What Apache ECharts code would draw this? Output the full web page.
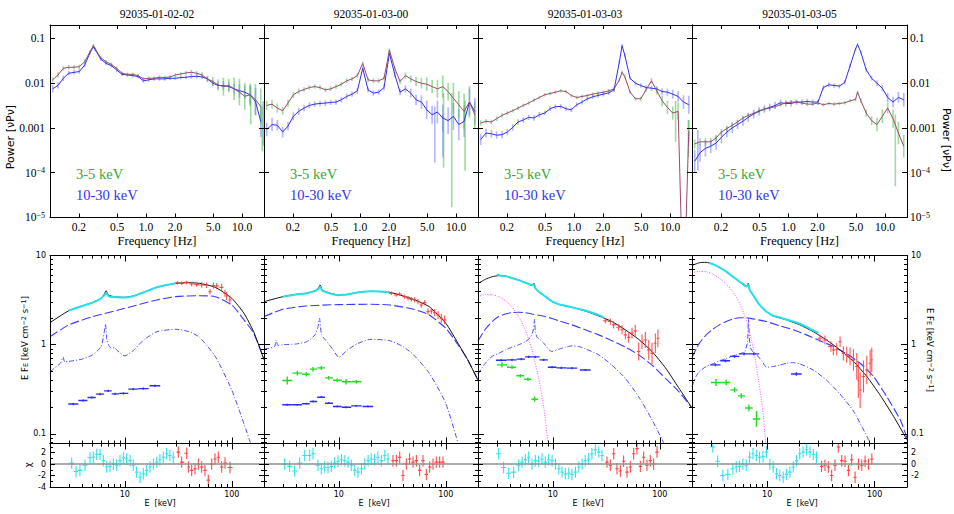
<!DOCTYPE html>
<html><head><meta charset="utf-8"><title>Power spectra and energy spectra</title>
<script src="https://cdn.jsdelivr.net/npm/echarts@6/dist/echarts.min.js"></script>
<style>html,body{margin:0;padding:0;background:#fff;}#chart{width:954px;height:514px;}</style>
</head><body><div id="chart"></div>
<script>
// ---------------- tick labels / categories ----------------
const obsIds = ['92035-01-02-02','92035-01-03-00','92035-01-03-03','92035-01-03-05'];
const freqTicks = [0.2,0.5,1,2,5,10];
const powerTicks = [1e-5,1e-4,1e-3,1e-2,1e-1];
const energyMajor = [10,100];
const energyMinor = [2,3,4,5,6,7,8,9,20,30,40,50,60,70,80,90,200];
const fluxMajor = [0.1,1,10];
const fluxMinor = [0.08,0.09,0.2,0.3,0.4,0.5,0.6,0.7,0.8,0.9,2,3,4,5,6,7,8,9];
const chiLeft = [-4,-2,0,2];
const chiRight = [-2,0,2];
const chiMinor = [-3,-1,1,3];

// ---------------- power spectra (top row) ----------------
const freqP1 = [0.1066,0.1212,0.1377,0.1564,0.1778,0.2020,0.2297,0.2610,0.283,0.2966,0.3371,0.3831,0.4354,0.4948,0.5623,0.6390,0.7262,0.8254,0.9380,1.066,1.212,1.377,1.565,1.778,2.021,2.297,2.610,2.966,3.371,3.831,4.354,4.948,5.623,6.390,7.262,8.254,9.380,10.66,12.12,13.77,15.65];
const greenP1 = [0.0119,0.0153,0.0215,0.0227,0.0227,0.0234,0.0303,0.0506,0.0687,0.058,0.0372,0.0303,0.0264,0.0215,0.0167,0.0158,0.0158,0.0148,0.0125,0.0129,0.0129,0.0136,0.0134,0.0138,0.0153,0.0161,0.0170,0.0175,0.0167,0.0153,0.0125,0.0109,0.0092,0.0084,0.0089,0.0075,0.0063,0.0051,0.0055,0.0043,0.0030];
const blueP1 = [0.0075,0.0089,0.0129,0.0167,0.0175,0.0182,0.0255,0.048,0.0653,0.056,0.0347,0.0278,0.0247,0.0198,0.0158,0.0153,0.0148,0.0141,0.0113,0.0119,0.0125,0.0125,0.0125,0.0129,0.0129,0.0134,0.0136,0.0141,0.0143,0.0138,0.0125,0.010,0.0089,0.0089,0.0084,0.0075,0.0068,0.0063,0.0055,0.0039,0.0014];
const greenErrP1 = [.06,.06,.05,.05,.05,.05,.05,.04,.04,.04,.04,.04,.04,.04,.04,.04,.04,.04,.04,.04,.04,.04,.04,.04,.04,.04,.04,.05,.05,.06,.07,.1,.12,.2,.15,.25,.3,.3,.25,.35,.4];
const blueErrP1 = [.08,.07,.06,.05,.05,.05,.05,.04,.04,.04,.04,.04,.04,.04,.04,.04,.04,.04,.04,.04,.04,.04,.04,.04,.04,.04,.04,.05,.05,.05,.06,.07,.08,.1,.1,.12,.15,.15,.2,.3,.35];
const deepGreenP1 = [[12.3,0.0012,0.009],[16.2,0.0003,0.003]];
const deepBlueP1 = [[16.6,0.0004,0.004]];

const freqP2 = [0.1066,0.1212,0.1377,0.1564,0.1778,0.2020,0.2297,0.2610,0.2966,0.3371,0.3831,0.4354,0.4948,0.5623,0.6390,0.7262,0.8254,0.9380,1.066,1.212,1.377,1.565,1.778,2.021,2.297,2.610,2.966,3.371,3.831,4.354,4.948,5.623,6.390,7.262,8.254,9.380,10.66,12.12,13.77,15.65];
const greenP2 = [0.00319,0.00341,0.00278,0.00243,0.0036,0.00551,0.00653,0.00723,0.0080,0.0084,0.0080,0.00711,0.00748,0.0084,0.0095,0.0113,0.0125,0.0148,0.0278,0.0119,0.0113,0.0113,0.0129,0.055,0.0215,0.0109,0.0148,0.0125,0.0109,0.010,0.0095,0.0084,0.0075,0.0084,0.0065,0.0046,0.0033,0.00235,0.0038,0.00198];
const blueP2 = [0.00092,0.00119,0.00115,0.00081,0.0011,0.00182,0.00235,0.00278,0.00319,0.00341,0.00353,0.0036,0.00372,0.00379,0.00427,0.00506,0.0057,0.00676,0.0215,0.00711,0.006,0.00631,0.0080,0.0464,0.0158,0.00631,0.00748,0.006,0.00427,0.00379,0.00255,0.00198,0.00227,0.00167,0.00146,0.00182,0.00119,0.00141,0.00379,0.00235];
const greenErrP2 = [.1,.1,.1,.09,.08,.07,.06,.05,.05,.05,.05,.05,.05,.05,.05,.05,.05,.05,.04,.05,.05,.05,.05,.04,.05,.06,.07,.08,.1,.12,.15,.15,.2,.25,.2,.35,.3,.4,.35,.3];
const blueErrP2 = [.15,.15,.12,.12,.1,.09,.08,.07,.07,.06,.06,.06,.06,.06,.06,.06,.06,.06,.05,.06,.06,.06,.06,.04,.06,.07,.08,.1,.12,.15,.2,.2,.25,.3,.3,.3,.35,.35,.3,.3];
const deepGreenP2 = [[7.4,1.3e-4,0.006],[9.0,1.7e-5,0.006],[12.4,1.1e-4,0.004]];
const deepBlueP2 = [[6.0,1.7e-4,0.003],[7.3,2.2e-4,0.002]];

const freqP3 = [0.1066,0.1212,0.1377,0.1564,0.1778,0.2020,0.2297,0.2610,0.2966,0.3371,0.3831,0.4354,0.4948,0.5623,0.6390,0.7262,0.8254,0.9380,1.066,1.212,1.377,1.565,1.778,2.021,2.297,2.610,2.966,3.16,3.371,3.831,4.354,4.948,5.623,6.390,7.262,8.254,9.380,10.66,12.12,13.77,15.65];
const greenP3 = [0.00129,0.00141,0.00136,0.00161,0.00191,0.00215,0.00243,0.00278,0.00319,0.0036,0.00419,0.0048,0.00551,0.00589,0.00631,0.00676,0.00653,0.00532,0.0048,0.00506,0.00532,0.0057,0.006,0.00631,0.00676,0.00748,0.0119,0.0175,0.0141,0.00631,0.00449,0.00449,0.00711,0.0113,0.00676,0.00405,0.00288,0.00215,0.00235,1e-7,0.00084];
const blueP3 = [0.00055,0.00077,0.00074,0.00069,0.00071,0.00081,0.00103,0.00136,0.00151,0.00173,0.00167,0.00198,0.00215,0.00269,0.00298,0.00303,0.00269,0.00255,0.0033,0.00379,0.00449,0.00497,0.00532,0.0057,0.0061,0.00711,0.0303,0.0687,0.0426,0.0129,0.010,0.0089,0.0080,0.00774,0.00748,0.00653,0.00631,0.0057,0.00506,0.00379,0.0033];
const greenErrP3 = [.06,.05,.05,.05,.05,.04,.04,.04,.04,.04,.04,.04,.04,.04,.04,.04,.04,.04,.04,.04,.04,.04,.04,.04,.04,.04,.04,.04,.04,.04,.04,.05,.05,.06,.08,.12,.15,.15,.2,0,.25];
const blueErrP3 = [.12,.1,.08,.08,.08,.07,.07,.06,.06,.06,.06,.06,.05,.05,.05,.05,.05,.05,.05,.05,.05,.05,.05,.05,.05,.05,.04,.04,.04,.04,.05,.05,.05,.06,.06,.07,.08,.1,.12,.15,.2];
const deepGreenP3 = [[11.4,4.9e-4,0.004],[15.5,2.2e-4,0.0015]];
const deepBlueP3 = [];

const freqP4 = [0.1066,0.1212,0.1377,0.1564,0.1778,0.2020,0.2297,0.2610,0.2966,0.3371,0.3831,0.4354,0.4948,0.5623,0.6390,0.7262,0.8254,0.9380,1.066,1.212,1.377,1.565,1.778,2.021,2.297,2.610,2.966,3.371,3.831,4.354,4.948,5.19,5.623,6.390,7.262,8.254,9.380,10.66,12.12,13.77,15.65];
const greenP4 = [0.00044,0.00049,0.00049,0.00049,0.0006,0.00081,0.00097,0.00115,0.00136,0.00167,0.00191,0.00212,0.00243,0.00264,0.00278,0.00298,0.0033,0.00366,0.00379,0.00379,0.0036,0.00341,0.00341,0.0036,0.0033,0.00353,0.00341,0.00353,0.00366,0.00405,0.00434,0.00631,0.00405,0.00215,0.00146,0.00119,0.00182,0.00278,0.00161,0.00077,0.00039];
const blueP4 = [0.00018,0.00028,0.00035,0.00039,0.00046,0.00062,0.00081,0.001,0.00119,0.00141,0.00173,0.00205,0.00235,0.00264,0.00288,0.00319,0.00366,0.00353,0.00353,0.00379,0.00379,0.00392,0.00379,0.00379,0.0080,0.0092,0.0089,0.0086,0.0105,0.0247,0.058,0.0736,0.0489,0.0198,0.0129,0.010,0.00774,0.0048,0.00379,0.0048,0.00427];
const greenErrP4 = [.1,.08,.08,.08,.07,.07,.06,.06,.05,.05,.05,.05,.05,.05,.05,.04,.04,.04,.04,.04,.04,.04,.04,.04,.04,.04,.04,.04,.04,.04,.04,.04,.05,.08,.1,.15,.15,.12,.2,.25,.25];
const blueErrP4 = [.25,.2,.18,.15,.15,.14,.12,.12,.1,.1,.1,.1,.09,.08,.08,.08,.07,.07,.07,.06,.06,.06,.06,.06,.05,.05,.05,.05,.05,.04,.03,.03,.03,.04,.05,.06,.07,.1,.12,.12,.15];
const deepGreenP4 = [[12.8,5e-5,0.002]];
const deepBlueP4 = [[0.115,1.1e-4,0.0009]];

// ---------------- energy spectra (bottom row) [E keV, E F_E] ----------------
const totalB1 = [[2,1.77],[3,2.41],[4,2.72],[5,2.97],[6,3.32],[6.4,3.67],[6.7,4.03],[7,3.61],[8,3.46],[10,3.40],[12,3.52],[15,3.87],[20,4.41],[30,4.88],[40,4.96],[50,4.88],[70,4.41],[100,3.32],[130,2.25],[160,1.40],[200,0.68]];
const compB1 = [[2,1.23],[3,1.67],[5,2.06],[10,2.56],[20,3.18],[30,3.46],[50,3.55],[70,3.46],[100,2.79],[130,1.90],[160,1.35],[200,0.69]];
const reflB1 = [[2,0.50],[2.5,0.62],[2.65,0.73],[2.75,0.64],[3,0.65],[4,0.69],[5,0.77],[6,0.95],[6.4,1.34],[6.6,1.71],[6.8,1.13],[7.2,0.95],[7.6,0.91],[8,0.93],[8.5,0.86],[10,0.75],[12,0.86],[15,1.13],[20,1.40],[30,1.49],[40,1.40],[50,1.21],[70,0.74],[100,0.31],[130,0.13],[150,0.078]];
const cyanB1 = [[3,2.41],[3.5,2.58],[4,2.72],[4.5,2.84],[5,2.97],[5.5,3.12],[6,3.3],[6.4,3.55],[6.7,3.8],[7,3.55],[7.5,3.42],[8,3.42],[9,3.38],[10,3.38],[12,3.5],[14,3.75],[17,4.1],[20,4.41],[25,4.7],[30,4.9]];
const redB1 = [[31,4.96,.02],[34,4.88,.02],[37.8,5.0,.02],[42.2,4.8,.025],[47,4.72,.025],[52.3,4.68,.03],[58.2,4.65,.03],[62.5,3.93,.03],[67.3,4.6,.035],[72.3,4.55,.035],[80.4,4.4,.04],[86.3,3.78,.04],[89.5,3.52,.045],[96,3.18,.05]];
const blueXB1 = [[3.3,0.216,.012],[4.1,0.237,.012],[4.9,0.256,.012],[5.86,0.279,.012],[7.0,0.304,.012],[8.1,0.281,.012],[9.7,0.285,.012],[12.0,0.318,.012],[14.9,0.322,.012],[19.1,0.346,.012]];

const totalB2 = [[2,3.04],[3,3.46],[4,3.67],[5,3.77],[6,4.04],[6.4,4.29],[6.7,4.68],[7,4.11],[8,3.84],[10,3.61],[12,3.67],[15,3.87],[20,3.97],[30,3.87],[40,3.52],[50,3.23],[70,2.67],[100,1.74],[130,1.04],[160,0.68],[200,0.40]];
const compB2 = [[2,2.07],[3,2.5],[5,2.72],[10,2.82],[20,2.84],[30,2.79],[50,2.5],[70,2.16],[100,1.53],[130,1.0],[160,0.68],[200,0.40]];
const reflB2 = [[2,0.89],[2.5,0.95],[2.6,1.13],[2.7,0.98],[3,1.0],[4,1.02],[5,1.08],[6,1.29],[6.4,1.6],[6.6,1.98],[6.9,1.29],[7.5,1.13],[8,1.03],[9,0.85],[10,0.72],[12,0.87],[15,1.03],[20,1.15],[30,1.11],[40,0.95],[50,0.77],[70,0.48],[100,0.22],[130,0.079]];
const cyanB2 = [[3,3.46],[3.5,3.57],[4,3.67],[4.5,3.72],[5,3.77],[5.5,3.9],[6,4.0],[6.4,4.2],[6.7,4.45],[7,4.05],[7.5,3.9],[8,3.8],[9,3.65],[10,3.6],[11,3.63],[12,3.67],[14,3.8],[17,3.92],[20,3.97],[25,3.95],[30,3.87]];
const redB2 = [[31,3.78,.02],[34.5,3.61,.02],[37,3.71,.02],[41.3,3.46,.025],[44.4,3.32,.025],[47.7,3.23,.025],[51.2,3.18,.03],[55,3.04,.03],[59,2.79,.03],[63.5,2.97,.03],[68.2,2.35,.035],[73.3,2.39,.035],[78.8,2.29,.04],[84.6,2.16,.045],[90.9,1.98,.05],[97.6,1.90,.05]];
const blueXB2 = [[3.3,0.212,.012],[4.1,0.212,.01],[4.98,0.218,.01],[5.74,0.231,.01],[6.87,0.258,.01],[8.04,0.221,.01],[9.68,0.203,.01],[11.7,0.199,.01],[14.6,0.206,.01],[18.7,0.203,.01]];
const greenXB2 = [[3.3,0.397,.045],[4.1,0.48,.026],[4.98,0.467,.026],[5.74,0.532,.025],[6.87,0.55,.025],[8.04,0.425,.02],[9.68,0.40,.02],[11.7,0.384,.03],[14.6,0.384,.02]];

const totalB3 = [[2,4.85],[2.34,5.41],[2.71,5.79],[3.12,5.95],[3.6,5.90],[4.16,5.60],[4.8,5.32],[5.54,4.96],[6.39,4.64],[6.67,4.88],[6.87,4.29],[7.38,3.93],[8.51,3.46],[9.84,3.04],[11.35,2.84],[13.1,2.72],[15.1,2.63],[20.1,2.39],[26.9,2.10],[35.7,1.82],[47.6,1.47],[63.5,1.15],[84.6,0.84],[113,0.55],[150,0.33],[200,0.195]];
const diskB3 = [[2,3.44],[2.34,3.67],[2.71,3.64],[3.12,3.46],[3.6,3.12],[4.16,2.67],[4.8,2.07],[5.54,1.47],[6.39,0.875],[7.38,0.42],[8.22,0.203],[9.02,0.079]];
const compB3 = [[2,1.1],[2.34,1.49],[2.71,1.82],[3.12,2.07],[3.6,2.21],[4.16,2.29],[4.8,2.31],[5.54,2.29],[6.39,2.21],[8.51,2.07],[11.35,1.86],[15.1,1.67],[20.1,1.47],[26.9,1.29],[35.7,1.11],[47.6,0.94],[63.5,0.77],[84.6,0.59],[113,0.42],[150,0.30],[200,0.195]];
const reflB3 = [[2,0.47],[2.18,0.55],[2.34,0.62],[2.71,0.74],[3.12,0.80],[3.6,0.875],[4.16,0.94],[4.8,1.0],[5.54,1.08],[6.19,1.21],[6.57,1.47],[6.76,1.93],[6.87,1.40],[7.13,1.21],[7.66,1.13],[8.24,1.04],[9.21,0.875],[9.84,0.84],[11.35,0.89],[13.1,0.94],[15.1,0.97],[17.5,0.955],[20.1,0.90],[26.9,0.77],[35.7,0.59],[47.6,0.42],[63.5,0.26],[84.6,0.144],[109,0.079]];
const cyanB3 = [[3.0,6.15],[3.3,5.95],[3.6,5.88],[4.16,5.6],[4.8,5.3],[5.54,4.95],[6.0,4.8],[6.39,4.64],[6.67,4.75],[6.9,4.3],[7.38,3.95],[8.51,3.47],[9.84,3.06],[11.35,2.85],[13.1,2.74],[15.1,2.63],[17.5,2.52],[20.1,2.42],[23,2.3],[26.9,2.15],[30,2.02]];
const redB3 = [[31,1.86,.03],[34.5,1.82,.035],[37,1.67,.04],[41.3,1.57,.04],[44.4,1.47,.05],[47.7,1.29,.05],[51.2,1.21,.06],[55,1.35,.06],[59,1.43,.07],[63.5,0.84,.1],[68.2,1.08,.08],[73.3,1.13,.09],[78.8,0.875,.11],[84.6,0.80,.12],[90.9,1.04,.11],[96,1.18,.1]];
const blueXB3 = [[3.3,0.67,.012],[4.16,0.676,.012],[5.08,0.69,.012],[5.95,0.73,.012],[6.87,0.73,.012],[8.22,0.676,.012],[9.84,0.56,.012],[12.0,0.55,.012],[15.1,0.546,.012],[20.1,0.52,.012]];
const greenXB3 = [[3.35,0.594,.03],[4.16,0.56,.02],[4.98,0.448,.02],[5.86,0.41,.02],[6.77,0.245,.03]];

const totalB4 = [[2,7.75],[2.34,8.31],[2.71,8.39],[3.12,8.03],[3.6,7.38],[4.16,6.6],[4.8,5.8],[5.54,5.09],[6.39,4.48],[6.67,4.88],[6.87,4.11],[7.38,3.61],[8.51,2.79],[9.84,2.35],[11.35,2.10],[13.1,2.0],[15.1,1.90],[20.1,1.67],[26.9,1.40],[35.7,1.13],[47.6,0.875],[63.5,0.65],[84.6,0.44],[113,0.27],[150,0.157],[200,0.086]];
const diskB4 = [[2,6.4],[2.34,6.65],[2.71,6.6],[3.12,6.21],[3.6,5.55],[4.16,4.8],[4.8,3.93],[5.54,2.92],[6.39,1.90],[7.38,0.955],[8.22,0.44],[9.02,0.203],[9.68,0.079]];
const compB4 = [[2,0.72],[2.34,1.04],[2.71,1.29],[3.12,1.49],[3.6,1.67],[4.16,1.82],[4.8,1.95],[5.54,2.01],[6.39,2.01],[7.38,1.95],[9.84,1.82],[13.1,1.63],[17.5,1.47],[23.2,1.29],[31,1.11],[41.3,0.955],[55,0.79],[73.3,0.62],[97.6,0.44],[130,0.26],[173,0.144],[200,0.09]];
const reflB4 = [[2,0.34],[2.18,0.44],[2.34,0.50],[2.71,0.57],[3.12,0.61],[3.6,0.66],[4.16,0.70],[4.8,0.75],[5.54,0.79],[6.19,0.84],[6.57,1.08],[6.71,1.98],[6.85,1.13],[7.13,0.875],[8.0,0.77],[9.0,0.65],[9.84,0.56],[11.35,0.57],[13.1,0.59],[15.1,0.62],[17.5,0.63],[20.1,0.61],[26.9,0.52],[35.7,0.40],[47.6,0.28],[63.5,0.18],[84.6,0.094],[90,0.079]];
const cyanB4 = [[2.9,8.3],[3.12,8.0],[3.6,7.38],[4.16,6.6],[4.8,5.8],[5.54,5.09],[6.0,4.8],[6.39,4.5],[6.67,4.7],[6.9,4.1],[7.38,3.62],[8.51,2.8],[9.84,2.36],[11.35,2.12],[13.1,2.02],[15.1,1.92],[17.5,1.82],[20.1,1.72],[23,1.6],[26.9,1.45],[30,1.35]];
const redB4 = [[31,1.18,.04],[34.5,1.13,.05],[39.2,0.955,.06],[41.3,0.875,.06],[44.4,0.89,.07],[47.7,1.08,.06],[51.2,0.80,.08],[55,0.77,.09],[59,0.74,.1],[63.5,0.676,.12],[68.2,0.57,.15],[70.5,0.40,.2],[73.3,0.31,.2],[78.8,0.44,.18],[84.6,0.52,.16],[90.9,0.62,.15],[94,0.676,.14]];
const blueXB4 = [[3.3,0.594,.015],[4.1,0.66,.015],[4.98,0.74,.015],[6.1,0.79,.015],[7.5,0.79,.015],[18.7,0.47,.02]];
const greenXB4 = [[3.35,0.377,.04],[4.16,0.377,.03],[4.98,0.312,.03],[5.74,0.267,.03],[6.77,0.195,.04],[7.96,0.147,.09]];

// ---------------- residuals [E keV, chi] ----------------
const res1Cyan = [[3.19,0.17],[3.5,-1.3],[3.81,-1.1],[4.25,-0.2],[4.73,1.1],[5.08,1.2],[5.46,1.7],[5.87,1.7],[6.3,0.6],[6.77,-0.5],[7.28,-0.4],[7.82,0],[8.4,-0.2],[9.02,0.6],[9.69,1.1],[10.4,0.9],[11.2,0.6],[12.0,-0.2],[12.9,-1.4],[13.9,-2.3],[14.9,-1.7],[16.0,-1.1],[17.2,-0.5],[18.5,0],[19.9,0.35],[21.3,0.75],[22.9,1.2],[24.6,1.8],[26.4,1.5],[28.4,1.2]];
const res1Red = [[31.6,2.1],[34,0.35],[37.9,1.9],[39.3,-0.5],[42.2,-1.1],[45.3,-0.8],[48.7,0],[52.3,-0.5],[56.2,-1.1],[60.3,-2.8],[64.9,0],[69.7,0.9],[74.8,1.2],[80.4,-0.5],[86.4,0.2],[96.2,-0.6]];
const res2Cyan = [[3.12,0],[3.47,-0.4],[3.87,-1.2],[4.31,0.2],[4.8,1.5],[5.35,1.5],[5.74,1.8],[6.39,-0.2],[6.87,-0.8],[7.38,-0.5],[7.93,-0.6],[8.51,-0.4],[9.15,0.2],[9.84,0.5],[10.6,0.75],[11.4,0.6],[12.2,0.35],[13.1,-0.2],[14.1,-1.1],[15.1,-1.4],[16.3,-0.8],[17.5,0],[18.8,0.6],[20.1,0.9],[21.6,0.75],[23.2,1.2],[25,0.6],[26.9,1.5],[28.8,0.9]];
const res2Red = [[32.1,0.6],[34.5,0.6],[37.1,1.2],[39.8,-2.0],[42.8,0],[45.9,0.9],[49.4,0.35],[53.1,0.6],[57,-1.1],[61.2,0.6],[65.8,-1.8],[70.7,-0.5],[75.9,0],[81.5,0.35],[87.6,0.35],[94.2,0.35]];
const res3Cyan = [[3.12,1.8],[3.47,-0.6],[3.87,-1.6],[4.31,-1.4],[4.8,-0.2],[5.16,0.35],[5.54,0.75],[5.95,1.2],[6.39,0],[6.87,0.6],[7.38,0.5],[7.93,0.9],[8.51,0.35],[9.15,0.75],[9.84,0.6],[10.6,0],[11.4,-0.8],[12.2,-1.4],[13.1,-1.7],[14.1,-1.6],[15.1,-1.8],[16.3,-1.4],[17.5,-0.5],[18.8,0],[20.1,0.6],[21.6,0.9],[23.2,1.8],[25,2.5],[26.9,2.1],[28.8,1.5]];
const res3Red = [[32.1,0.35],[34.5,-0.2],[37.1,1.8],[39.8,-0.8],[42.8,-1.2],[45.9,0.5],[49.4,-1.4],[53.1,-0.5],[57,1.8],[61.2,2.7],[65.8,-0.4],[70.7,1.2],[75.9,-0.2],[81.5,0.6],[87.6,0],[94.2,2.1]];
const res4Cyan = [[3.12,3.0],[3.47,0.5],[3.87,-2.0],[4.31,-1.8],[4.8,-0.8],[5.16,-0.5],[5.54,-0.4],[5.95,0],[6.39,-0.2],[6.87,1.2],[7.38,1.8],[7.93,1.5],[8.51,1.2],[9.15,1.3],[9.84,2.1],[10.6,0],[11.4,-0.5],[12.2,-1.7],[13.1,-2.0],[14.1,-2.3],[15.1,-1.8],[16.3,-1.4],[17.5,-0.5],[18.8,0.6],[20.1,1.8],[21.6,2.1],[23.2,2.5],[25,2.1],[26.9,1.7],[28.8,1.2]];
const res4Red = [[32.1,-0.4],[34.5,-0.2],[37.1,-0.5],[39.8,-2.0],[42.8,-0.2],[45.9,3.0],[49.4,0.6],[53.1,0.5],[57,-1.1],[61.2,0.75],[65.8,-2.3],[70.7,0],[75.9,-0.2],[81.5,0.5],[87.6,0],[94.2,0.9]];

// ---------------- layout / style ----------------
const PANEL_L = [50, 264, 478, 692];
const PANEL_W = [214, 214, 214, 215];
const TOP_Y = 25, TOP_H = 192.5, MAIN_Y = 255.5, MAIN_H = 188, RES_Y = 443.5, RES_H = 43.5;
const F_MIN = 0.1, F_MAX = 16.9, P_MIN = 0.998e-5, P_MAX = 0.2;
const E_MIN = 2, E_MAX = 200, S_MIN = 0.078, S_MAX = 10.02, R_MIN = -4, R_MAX = 3.6;
const SERIF = 'Liberation Serif';
const SANS = 'DejaVu Sans';

const topSets = [
  {freq:freqP1, green:greenP1, blue:blueP1, gErr:greenErrP1, bErr:blueErrP1, gDeep:deepGreenP1, bDeep:deepBlueP1},
  {freq:freqP2, green:greenP2, blue:blueP2, gErr:greenErrP2, bErr:blueErrP2, gDeep:deepGreenP2, bDeep:deepBlueP2},
  {freq:freqP3, green:greenP3, blue:blueP3, gErr:greenErrP3, bErr:blueErrP3, gDeep:deepGreenP3, bDeep:deepBlueP3},
  {freq:freqP4, green:greenP4, blue:blueP4, gErr:greenErrP4, bErr:blueErrP4, gDeep:deepGreenP4, bDeep:deepBlueP4}
];
const bottomSets = [
  {total:totalB1, comp:compB1, refl:reflB1, disk:null, cyan:cyanB1, red:redB1, blueX:blueXB1, greenX:null, resCyan:res1Cyan, resRed:res1Red},
  {total:totalB2, comp:compB2, refl:reflB2, disk:null, cyan:cyanB2, red:redB2, blueX:blueXB2, greenX:greenXB2, resCyan:res2Cyan, resRed:res2Red},
  {total:totalB3, comp:compB3, refl:reflB3, disk:diskB3, cyan:cyanB3, red:redB3, blueX:blueXB3, greenX:greenXB3, resCyan:res3Cyan, resRed:res3Red},
  {total:totalB4, comp:compB4, refl:reflB4, disk:diskB4, cyan:cyanB4, red:redB4, blueX:blueXB4, greenX:greenXB4, resCyan:res4Cyan, resRed:res4Red}
];

const grids = [], xAxis = [], yAxis = [], series = [], graphic = [];
function addGrid(l, t, w, h){ grids.push({left:l, top:t, width:w, height:h, show:false}); return grids.length - 1; }
function tick(vals, len){ return {show:true, inside:true, length:len, customValues:vals, lineStyle:{color:'#000', width:1}}; }
function axisBase(type, g, min, max, pos, extra){
  const a = {type:type, gridIndex:g, min:min, max:max, position:pos, splitLine:{show:false},
    axisLine:{show:true, onZero:false, lineStyle:{color:'#000', width:1}}, axisTick:{show:false},
    axisLabel:{show:false}, axisPointer:{show:false}, silent:true, z:5};
  if (type === 'log') a.logBase = 10;
  return Object.assign(a, extra || {});
}
const noLine = {show:false, onZero:false};
function txt(x, y, text, size, family, color, align, rot, rich){
  const st = {text:text, fill:color, fontSize:size, fontFamily:family, align:align, verticalAlign:'middle', textAlign:align, textVerticalAlign:'middle'};
  if (rich) st.rich = rich;
  const el = {type:'text', x:x, y:y, silent:true, style:st};
  if (rot) el.rotation = rot;
  return el;
}

function powerLabel(m){
  return {show:true, customValues:powerTicks, margin:m, color:'#000', fontFamily:SERIF, fontSize:11.5,
    formatter:function(v){ const e = Math.round(Math.log10(v)); return e >= -3 ? Math.pow(10, e).toFixed(-e) : '10{sup|\u2212' + (-e) + '}'; },
    rich:{sup:{fontSize:8, fontFamily:SERIF, color:'#000', verticalAlign:'top', lineHeight:9}}};
}
function fluxLabel(m){
  return {show:true, customValues:fluxMajor, margin:m, color:'#000', fontFamily:SANS, fontSize:8,
    formatter:function(v){ return v >= 1 ? String(Math.round(v)) : '0.1'; }};
}
function chiLabel(vals, m){
  return {show:true, customValues:vals, margin:m, color:'#000', fontFamily:SANS, fontSize:8,
    formatter:function(v){ return String(Math.round(v)); }};
}

function vbar(color, w, op){
  return function(params, api){
    const a = api.coord([api.value(0), api.value(1)]), b = api.coord([api.value(0), api.value(2)]);
    return {type:'line', shape:{x1:a[0], y1:a[1], x2:b[0], y2:b[1]}, style:{stroke:color, lineWidth:w, opacity:op}};
  };
}
function cross(color, w, op){
  return function(params, api){
    const x = api.value(0), y = api.value(1);
    const h0 = api.coord([api.value(2), y]), h1 = api.coord([api.value(3), y]);
    const v0 = api.coord([x, api.value(4)]), v1 = api.coord([x, api.value(5)]);
    return {type:'group', children:[
      {type:'line', shape:{x1:h0[0], y1:h0[1], x2:h1[0], y2:h1[1]}, style:{stroke:color, lineWidth:w, opacity:op}},
      {type:'line', shape:{x1:v0[0], y1:v0[1], x2:v1[0], y2:v1[1]}, style:{stroke:color, lineWidth:w, opacity:op}}
    ]};
  };
}
function custom(xi, yi, data, render, z){
  return {type:'custom', xAxisIndex:xi, yAxisIndex:yi, data:data, renderItem:render, clip:true, silent:true, z:z || 2};
}
function curve(xi, yi, data, color, w, type, smooth, z){
  return {type:'line', xAxisIndex:xi, yAxisIndex:yi, data:data, symbol:'none', showSymbol:false, smooth:smooth,
    lineStyle:{color:color, width:w, type:type}, clip:true, silent:true, z:z || 3};
}
function errPoints(freq, vals, errs){
  const out = [];
  freq.forEach(function(f, j){ if (errs[j] > 0) out.push([f, vals[j] / Math.pow(10, errs[j]), vals[j] * Math.pow(10, errs[j])]); });
  return out;
}
function zip(a, b){ return a.map(function(v, j){ return [v, b[j]]; }); }
function bins(pts, maxDex){
  const cap = Math.pow(10, maxDex);
  return pts.map(function(p, j){
    const E = p[0], prev = j > 0 ? pts[j-1][0] : null, next = j < pts.length - 1 ? pts[j+1][0] : null;
    let lo = prev ? Math.sqrt(prev * E) : (next ? E * E / Math.sqrt(E * next) : E / cap);
    let hi = next ? Math.sqrt(next * E) : (prev ? E * E / Math.sqrt(E * prev) : E * cap);
    return [Math.max(lo, E / cap), Math.min(hi, E * cap)];
  });
}
function fluxCrosses(pts, maxDex){
  const b = bins(pts, maxDex);
  return pts.map(function(p, j){ const k = Math.pow(10, p[2]); return [p[0], p[1], b[j][0], b[j][1], p[1] / k, p[1] * k]; });
}
function chiCrosses(pts, maxDex){
  const b = bins(pts, maxDex);
  return pts.map(function(p, j){ return [p[0], p[1], b[j][0], b[j][1], p[1] - 1, p[1] + 1]; });
}

// ---------------- top row ----------------
topSets.forEach(function(d, i){
  const g = addGrid(PANEL_L[i], TOP_Y, PANEL_W[i], TOP_H);
  const xi = xAxis.length;
  xAxis.push(axisBase('log', g, F_MIN, F_MAX, 'bottom', {axisTick:tick(freqTicks, 4),
    axisLabel:{show:true, customValues:freqTicks, margin:3, color:'#000', fontFamily:SERIF, fontSize:11.5,
      formatter:function(v){ return Number(v).toFixed(1); }}}));
  xAxis.push(axisBase('log', g, F_MIN, F_MAX, 'top', {axisTick:tick(freqTicks, 4)}));
  const yi = yAxis.length;
  yAxis.push(axisBase('log', g, P_MIN, P_MAX, 'left', {axisTick:tick(powerTicks, 5), axisLabel: i === 0 ? powerLabel(5) : {show:false}}));
  yAxis.push(axisBase('log', g, P_MIN, P_MAX, 'right', {axisTick:tick(powerTicks, 5), axisLabel: i === 3 ? powerLabel(3) : {show:false}}));
  series.push(custom(xi, yi, errPoints(d.freq, d.blue, d.bErr).concat(d.bDeep), vbar('#6a6aff', 1.6, 0.5), 2));
  series.push(custom(xi, yi, errPoints(d.freq, d.green, d.gErr).concat(d.gDeep), vbar('#4fbf4f', 1.6, 0.55), 2));
  series.push(curve(xi, yi, zip(d.freq, d.blue), '#2f2fee', 1, 'solid', false, 3));
  series.push(curve(xi, yi, zip(d.freq, d.green), '#a0466e', 1, 'solid', false, 3));

  const cx = PANEL_L[i] + PANEL_W[i] / 2;
  graphic.push(txt(cx, 14, obsIds[i], 11.5, SERIF, '#000', 'center'));
  graphic.push(txt(cx, 240.5, 'Frequency [Hz]', 12.5, SERIF, '#000', 'center'));
  graphic.push(txt(PANEL_L[i] + 26, 174, '3-5 keV', 14.5, SERIF, '#35a835', 'left'));
  graphic.push(txt(PANEL_L[i] + 26, 195, '10-30 keV', 14.5, SERIF, '#3434ee', 'left'));
});

// ---------------- bottom rows ----------------
bottomSets.forEach(function(d, i){
  const g = addGrid(PANEL_L[i], MAIN_Y, PANEL_W[i], MAIN_H);
  const xi = xAxis.length;
  xAxis.push(axisBase('log', g, E_MIN, E_MAX, 'bottom', {axisTick:tick(energyMajor, 6)}));
  xAxis.push(axisBase('log', g, E_MIN, E_MAX, 'bottom', {axisLine:noLine, axisTick:tick(energyMinor, 3)}));
  xAxis.push(axisBase('log', g, E_MIN, E_MAX, 'top', {axisTick:tick(energyMajor, 6)}));
  xAxis.push(axisBase('log', g, E_MIN, E_MAX, 'top', {axisLine:noLine, axisTick:tick(energyMinor, 3)}));
  const yi = yAxis.length;
  yAxis.push(axisBase('log', g, S_MIN, S_MAX, 'left', {axisTick:tick(fluxMajor, 6), axisLabel: i === 0 ? fluxLabel(4) : {show:false}}));
  yAxis.push(axisBase('log', g, S_MIN, S_MAX, 'left', {axisLine:noLine, axisTick:tick(fluxMinor, 3)}));
  yAxis.push(axisBase('log', g, S_MIN, S_MAX, 'right', {axisTick:tick(fluxMajor, 6), axisLabel: i === 3 ? fluxLabel(4) : {show:false}}));
  yAxis.push(axisBase('log', g, S_MIN, S_MAX, 'right', {axisLine:noLine, axisTick:tick(fluxMinor, 3)}));

  series.push(curve(xi, yi, d.refl, '#4a4aff', 1, [5, 2, 1, 2], 0.2, 3));
  series.push(curve(xi, yi, d.comp, '#3a3aff', 1.1, [9, 3], 0.2, 3));
  if (d.disk) series.push(curve(xi, yi, d.disk, '#ff4dff', 1, [1, 1.5], 0.2, 3));
  series.push(curve(xi, yi, d.total, '#111111', 1, 'solid', 0.2, 4));
  series.push(curve(xi, yi, d.cyan, '#26dfe8', 2, 'solid', 0.2, 5));
  series.push(custom(xi, yi, fluxCrosses(d.red, 0.03), cross('#ff3535', 1.1, 0.85), 6));
  series.push(custom(xi, yi, fluxCrosses(d.blueX, 0.05), cross('#2b2bff', 1.4, 1), 6));
  if (d.greenX) series.push(custom(xi, yi, fluxCrosses(d.greenX, 0.05), cross('#22dd22', 1.4, 1), 6));

  const gr = addGrid(PANEL_L[i], RES_Y, PANEL_W[i], RES_H);
  const rxi = xAxis.length;
  xAxis.push(axisBase('log', gr, E_MIN, E_MAX, 'bottom', {axisTick:tick(energyMajor, 6),
    axisLabel:{show:true, customValues:energyMajor, margin:3, color:'#000', fontFamily:SANS, fontSize:8,
      formatter:function(v){ return String(Math.round(v)); }}}));
  xAxis.push(axisBase('log', gr, E_MIN, E_MAX, 'bottom', {axisLine:noLine, axisTick:tick(energyMinor, 3)}));
  xAxis.push(axisBase('log', gr, E_MIN, E_MAX, 'top', {axisTick:tick(energyMajor, 6)}));
  xAxis.push(axisBase('log', gr, E_MIN, E_MAX, 'top', {axisLine:noLine, axisTick:tick(energyMinor, 3)}));
  const ryi = yAxis.length;
  yAxis.push(axisBase('value', gr, R_MIN, R_MAX, 'left', {axisTick:tick(chiLeft, 5), axisLabel: i === 0 ? chiLabel(chiLeft, 4) : {show:false}}));
  yAxis.push(axisBase('value', gr, R_MIN, R_MAX, 'left', {axisLine:noLine, axisTick:tick(chiMinor, 3)}));
  yAxis.push(axisBase('value', gr, R_MIN, R_MAX, 'right', {axisTick:tick(chiLeft, 5), axisLabel: i === 3 ? chiLabel(chiRight, 4) : {show:false}}));
  yAxis.push(axisBase('value', gr, R_MIN, R_MAX, 'right', {axisLine:noLine, axisTick:tick(chiMinor, 3)}));

  series.push({type:'line', xAxisIndex:rxi, yAxisIndex:ryi, data:d.resCyan, symbol:'none', showSymbol:false,
    lineStyle:{opacity:0}, silent:true, z:1,
    markLine:{silent:true, symbol:['none','none'], label:{show:false}, lineStyle:{color:'#8f8f8f', width:1.5, type:'solid'}, data:[{yAxis:0}]}});
  series.push(custom(rxi, ryi, chiCrosses(d.resCyan, 0.03), cross('#2ee3ec', 1.1, 1), 3));
  series.push(custom(rxi, ryi, chiCrosses(d.resRed, 0.03), cross('#ff3535', 1.1, 0.9), 3));

  graphic.push(txt(PANEL_L[i] + 110, 503, 'E  [keV]', 8, SANS, '#000', 'center'));
});

// axis names of the outer panels
const efeRich = {sub:{fontSize:6.5, fontFamily:SANS, fill:'#000', verticalAlign:'bottom', lineHeight:9}, sup:{fontSize:6.5, fontFamily:SANS, fill:'#000', verticalAlign:'top', lineHeight:9}};
graphic.push(txt(10.5, 137, 'Power [\u03bdP\u03bd]', 11, SANS, '#000', 'center', Math.PI / 2));
graphic.push(txt(946.5, 140, 'Power [\u03bdP\u03bd]', 11, SANS, '#000', 'center', -Math.PI / 2));
graphic.push(txt(25, 338, 'E F{sub|E} [keV cm{sup|\u22122} s{sup|\u22121}]', 8.5, SANS, '#000', 'center', Math.PI / 2, efeRich));
graphic.push(txt(930, 350, 'E F{sub|E} [keV cm{sup|\u22122} s{sup|\u22121}]', 8.5, SANS, '#000', 'center', -Math.PI / 2, efeRich));
graphic.push(txt(28, 465, '\u03c7', 9, SANS, '#000', 'center', Math.PI / 2));

const chart = echarts.init(document.getElementById('chart'), null, {renderer:'svg', width:954, height:514});
chart.setOption({animation:false, backgroundColor:'#ffffff', grid:grids, xAxis:xAxis, yAxis:yAxis, series:series, graphic:graphic, tooltip:{show:false}});
</script></body></html>
